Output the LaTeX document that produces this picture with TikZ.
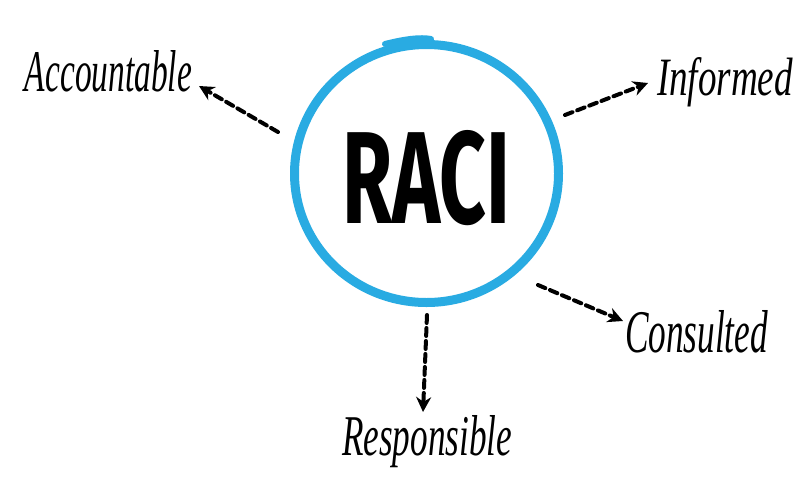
\documentclass[tikz,border=0pt]{standalone}
\usepackage{fontspec}
\setmainfont{Liberation Serif}
\newfontfamily\racifont{Fira Sans}
\usetikzlibrary{arrows.meta}
\definecolor{racicyan}{RGB}{41,171,226}
\tikzset{
  lbl/.style={inner sep=0pt, outer sep=0pt, anchor=base west, font=\itshape},
  arr/.style={line width=4pt, dash pattern=on 8pt off 5pt, line cap=round,
              -{Stealth[length=15pt,width=15pt]}},
}
\begin{document}
\begin{tikzpicture}[x=1pt,y=-1pt]
\useasboundingbox (0,0) rectangle (800,501);
\fill[white] (0,0) rectangle (800,501);
% circle
\draw[racicyan, line width=9pt] (426.5,173.5) ellipse [x radius=132, y radius=129];
\draw[racicyan, line width=6pt, line cap=round] (385,44) .. controls (405,39) and (420,37) .. (431,39);
\node[inner sep=0pt, anchor=base west] (raci) at (342,223)
  {\resizebox{168pt}{93pt}{\racifont\bfseries RACI}};
% labels
\node[lbl] (acc) at (25,91) {\resizebox{167pt}{41pt}{Accountable}};
\node[lbl] (inf) at (657,95) {\resizebox{136pt}{38pt}{Informed}};
\node[lbl] (con) at (625,352) {\resizebox{143pt}{42pt}{Consulted}};
\node[lbl] (res) at (342,455) {\resizebox{170pt}{40pt}{Responsible}};
% arrow ends
\coordinate (t1) at (278,132); \coordinate (h1) at (199,86);
\coordinate (t2) at (565,115); \coordinate (h2) at (648,83);
\coordinate (t3) at (538,285); \coordinate (h3) at (623,321);
\coordinate (t4) at (427,315); \coordinate (h4) at (423,412);
\draw[arr] (t1) -- (h1);
\draw[arr] (t2) -- (h2);
\draw[arr] (t3) -- (h3);
\draw[arr] (t4) -- (h4);
\end{tikzpicture}
\end{document}
